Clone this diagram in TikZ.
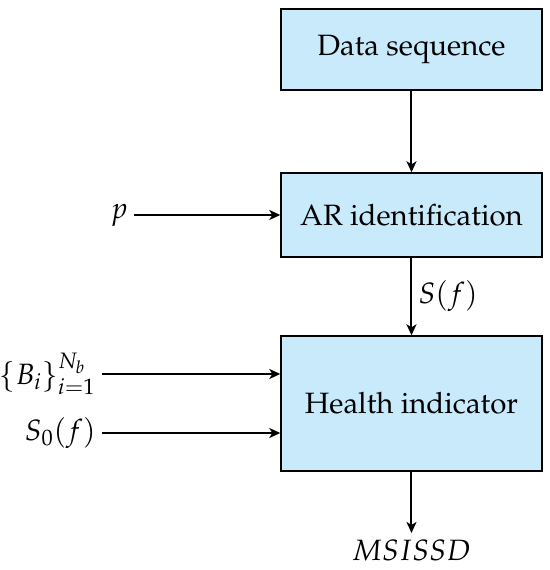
\documentclass[tikz,border=0pt]{standalone}
\usepackage[T1]{fontenc}
\usepackage{mathpazo}
\usepackage{amsmath}
\usetikzlibrary{arrows.meta}
\definecolor{boxblue}{RGB}{200,234,250}

\begin{document}
\begin{tikzpicture}[x=1pt, y=1pt,
    block/.style ={rectangle, draw, fill=boxblue, line width=0.7pt,
                   minimum width=130.5pt, font=\fontsize{14.7}{17}\selectfont},
    signal/.style ={inner sep=3pt, font=\fontsize{14.7}{17}\selectfont},
    flow/.style ={line width=1pt, -{Stealth[length=5.5pt, width=5pt, inset=1.5pt]}}]
   \useasboundingbox (0,0) rectangle (275,285);

   \node[block, minimum height=40.5pt] (data) at (205.75,260.25) {Data sequence};
   \node[block, minimum height=42pt] (ar) at (205.75,177.5) {AR identification};
   \node[block, minimum height=67.5pt] (health) at (205.75,83.25) {Health indicator};

   \node[signal, anchor=east] (p) at (67,177.5) {$p$};
   \node[signal, anchor=east] (basis) at (51,98) {$\{B_i\}_{i=1}^{N_b}$};
   \node[signal, anchor=east] (ref) at (51,68.5) {$S_0(f)$};
   \node[signal] (out) at (205.75,10) {$MSISSD$};

   \draw[flow] (data) to (ar);
   \draw[flow] (p) to (ar);
   \draw[flow] (ar) to node[signal, right] {$S(f)$} (health);
   \draw[flow] (basis.east |- 0,98) to (health.west |- 0,98);
   \draw[flow] (ref.east |- 0,68.5) to (health.west |- 0,68.5);
   \draw[flow] (health) to (out);
 \end{tikzpicture}
\end{document}
